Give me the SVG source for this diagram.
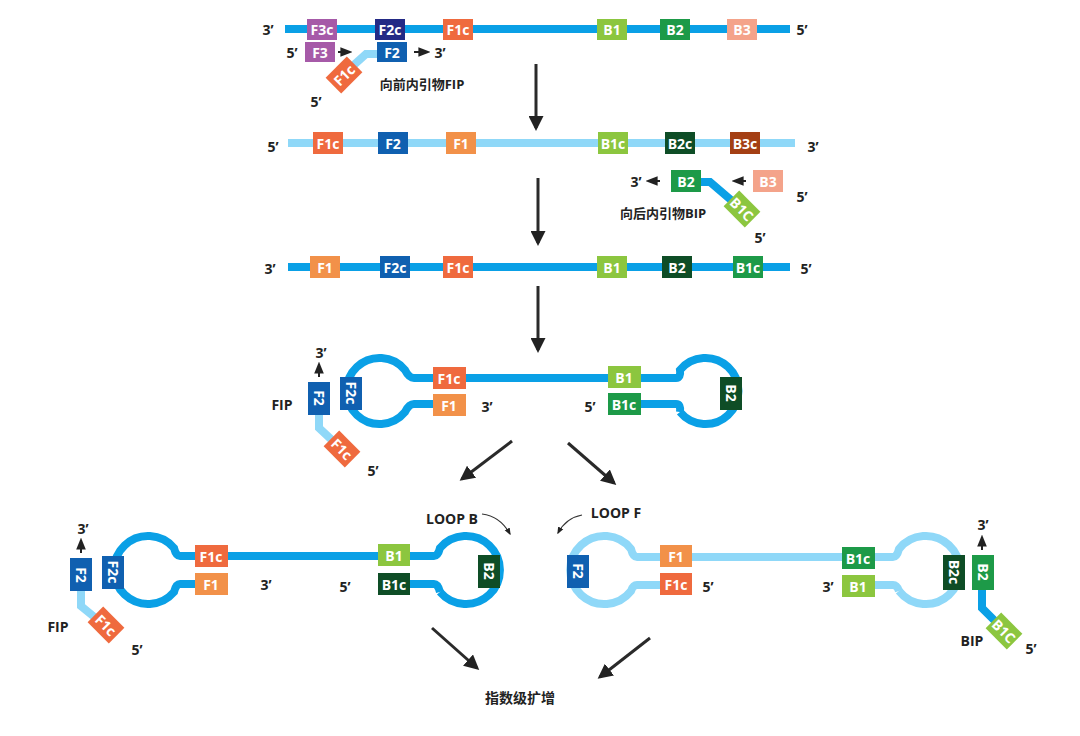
<svg xmlns="http://www.w3.org/2000/svg" width="1080" height="736" viewBox="0 0 1080 736">
<defs>
<marker id="ah" viewBox="0 0 10 10" refX="8" refY="5" markerWidth="5" markerHeight="5" orient="auto"><path d="M0 0L10 5L0 10z" fill="#222"/></marker>
<marker id="sa" viewBox="0 0 10 10" refX="8" refY="5" markerWidth="6" markerHeight="6" orient="auto"><path d="M0 1L10 5L0 9z" fill="#222"/></marker>
</defs>
<style>
.d{stroke:#0aa0e6;stroke-width:8;fill:none}
.l{stroke:#8fd8f8;stroke-width:8;fill:none}
.bt{font-family:"Open Sans","Liberation Sans","Noto Sans CJK SC",sans-serif;font-weight:bold;font-size:14px;fill:#fff;text-anchor:middle;dominant-baseline:central}
.t{font-family:"Open Sans","Liberation Sans","Noto Sans CJK SC",sans-serif;font-weight:bold;font-size:14px;fill:#222;text-anchor:middle;dominant-baseline:central}
.a{stroke:#2a2a2a;stroke-width:3;fill:none;marker-end:url(#ah)}
.s{stroke:#222;stroke-width:2;fill:none;marker-end:url(#sa)}
.c{stroke:#333;stroke-width:1.2;fill:none;marker-end:url(#sa)}
</style>
<rect width="1080" height="736" fill="#fff"/>
<g id="connectors">
<line class="a" x1="536" y1="64" x2="536" y2="128"/>
<line class="a" x1="538" y1="178" x2="538" y2="243"/>
<line class="a" x1="538" y1="286" x2="538" y2="350"/>
<line class="a" x1="512" y1="441" x2="462" y2="479"/>
<line class="a" x1="568" y1="443" x2="614" y2="483"/>
<line class="a" x1="432" y1="628" x2="477" y2="668"/>
<line class="a" x1="650" y1="638" x2="600" y2="677"/>
<path class="c" d="M482 514 Q500 516 510 534"/>
<path class="c" d="M582 515 Q566 518 558 533"/>
</g>
<g id="row1">
<line class="d" x1="285" y1="29" x2="790" y2="29"/>
<text class="t" x="268" y="29">3’</text><text class="t" x="802" y="29">5’</text>
<rect x="307" y="19" width="30" height="21" fill="#a65aa8"/><text class="bt" x="322" y="29.5">F3c</text>
<rect x="375" y="19" width="30" height="21" fill="#232a85"/><text class="bt" x="390" y="29.5">F2c</text>
<rect x="443" y="19" width="30" height="21" fill="#ef6a3e"/><text class="bt" x="458" y="29.5">F1c</text>
<rect x="597" y="19" width="30" height="21" fill="#8cc63f"/><text class="bt" x="612" y="29.5">B1</text>
<rect x="660" y="19" width="30" height="21" fill="#1d9a48"/><text class="bt" x="675" y="29.5">B2</text>
<rect x="727" y="19" width="30" height="21" fill="#f4a38a"/><text class="bt" x="742" y="29.5">B3</text>
</g>
<g id="fip1">
<text class="t" x="292" y="52">5’</text>
<rect x="305" y="42" width="30" height="20" fill="#a65aa8"/><text class="bt" x="320" y="52">F3</text>
<line class="s" x1="338" y1="52" x2="350" y2="52"/>
<path class="l" d="M346 72 L366 54 H380"/>
<rect x="377" y="42" width="30" height="20" fill="#1060b0"/><text class="bt" x="392" y="52">F2</text>
<line class="s" x1="414" y1="52" x2="428" y2="52"/>
<text class="t" x="440" y="52">3’</text>
<g transform="translate(344,75) rotate(-45)"><rect x="-15" y="-11" width="30" height="22" fill="#ef6a3e"/><text class="bt" x="0" y="0">F1c</text></g>
<text class="t" x="316" y="101">5’</text>
<text class="t" x="422" y="84" style="font-size:13px">向前内引物FIP</text>
</g>
<g id="row2">
<line class="l" x1="288" y1="143" x2="795" y2="143"/>
<text class="t" x="273" y="146">5’</text><text class="t" x="813" y="146">3’</text>
<rect x="313" y="132" width="30" height="22" fill="#ef6a3e"/><text class="bt" x="328" y="143">F1c</text>
<rect x="378" y="132" width="30" height="22" fill="#1060b0"/><text class="bt" x="393" y="143">F2</text>
<rect x="446" y="132" width="30" height="22" fill="#f29149"/><text class="bt" x="461" y="143">F1</text>
<rect x="598" y="132" width="30" height="22" fill="#8cc63f"/><text class="bt" x="613" y="143">B1c</text>
<rect x="665" y="132" width="30" height="22" fill="#0e4d26"/><text class="bt" x="680" y="143">B2c</text>
<rect x="730" y="132" width="30" height="22" fill="#a43f14"/><text class="bt" x="745" y="143">B3c</text>
</g>
<g id="bip1">
<text class="t" x="636" y="181">3’</text>
<line class="s" x1="660" y1="181" x2="648" y2="181"/>
<path class="d" d="M695 182 H710 L738 206"/>
<rect x="671" y="170" width="30" height="22" fill="#1d9a48"/><text class="bt" x="686" y="181">B2</text>
<line class="s" x1="746" y1="181" x2="734" y2="181"/>
<rect x="753" y="170" width="30" height="22" fill="#f4a38a"/><text class="bt" x="768" y="181">B3</text>
<text class="t" x="802" y="196">5’</text>
<g transform="translate(742,209) rotate(45)"><rect x="-15" y="-11" width="30" height="22" fill="#8cc63f"/><text class="bt" x="0" y="0">B1C</text></g>
<text class="t" x="663" y="213" style="font-size:13px">向后内引物BIP</text>
<text class="t" x="760" y="237">5’</text>
</g>
<g id="row3">
<line class="d" x1="288" y1="267" x2="790" y2="267"/>
<text class="t" x="270" y="268">3’</text><text class="t" x="806" y="268">5’</text>
<rect x="310" y="256" width="30" height="22" fill="#f29149"/><text class="bt" x="325" y="267">F1</text>
<rect x="380" y="256" width="30" height="22" fill="#1060b0"/><text class="bt" x="395" y="267">F2c</text>
<rect x="443" y="256" width="30" height="22" fill="#ef6a3e"/><text class="bt" x="458" y="267">F1c</text>
<rect x="597" y="256" width="30" height="22" fill="#8cc63f"/><text class="bt" x="612" y="267">B1</text>
<rect x="662" y="256" width="30" height="22" fill="#0e4d26"/><text class="bt" x="677" y="267">B2</text>
<rect x="733" y="256" width="30" height="22" fill="#1d9a48"/><text class="bt" x="748" y="267">B1c</text>
</g>
<g id="row4">
<path class="d" d="M420 378 H414 Q409 378 405 370 A33 33 0 1 0 405 412 Q409 404 414 404 H440"/>
<line class="d" x1="414" y1="378" x2="676" y2="378"/>
<path class="d" d="M620 404 H676 Q681 404 680 412"/>
<path class="d" d="M676 378 Q681 378 680 370 A33 33 0 1 1 680 412"/>
<rect x="340" y="377" width="22" height="33" fill="#1060b0"/><text class="bt" transform="translate(351,393) rotate(90)">F2c</text>
<rect x="433" y="367" width="33" height="22" fill="#ef6a3e"/><text class="bt" x="449" y="378">F1c</text>
<rect x="433" y="394" width="33" height="22" fill="#f29149"/><text class="bt" x="449" y="405">F1</text>
<text class="t" x="487" y="406">3’</text><text class="t" x="590" y="406">5’</text>
<rect x="608" y="366" width="33" height="22" fill="#8cc63f"/><text class="bt" x="624" y="377">B1</text>
<rect x="608" y="393" width="33" height="22" fill="#1d9a48"/><text class="bt" x="624" y="404">B1c</text>
<rect x="720" y="377" width="22" height="33" fill="#0e4d26"/><text class="bt" transform="translate(731,393) rotate(90)">B2</text>
</g>
<g id="fip2">
<path class="l" d="M319 412 V428 L334 442"/>
<rect x="308" y="382" width="22" height="33" fill="#1060b0"/><text class="bt" transform="translate(319,398) rotate(90)">F2</text>
<line class="s" x1="319" y1="377" x2="319" y2="364"/>
<text class="t" x="321" y="352">3’</text>
<text class="t" x="282" y="404">FIP</text>
<g transform="translate(342,449) rotate(45)"><rect x="-15" y="-11" width="30" height="22" fill="#ef6a3e"/><text class="bt" x="0" y="0">F1c</text></g>
<text class="t" x="373" y="470">5’</text>
</g>
<g id="row5left">
<path class="d" d="M190 556 H180 Q176 556 174 548 A34 34 0 1 0 174 592 Q176 584 180 584 H200"/>
<line class="d" x1="180" y1="556" x2="434" y2="556"/>
<path class="d" d="M400 584 H434 Q438 584 440 592"/>
<path class="d" d="M434 556 Q438 556 440 548 A34 34 0 1 1 440 592"/>
<rect x="102" y="556" width="22" height="33" fill="#1060b0"/><text class="bt" transform="translate(113,572) rotate(90)">F2c</text>
<rect x="195" y="545" width="33" height="22" fill="#ef6a3e"/><text class="bt" x="211" y="556">F1c</text>
<rect x="195" y="573" width="33" height="22" fill="#f29149"/><text class="bt" x="211" y="584">F1</text>
<text class="t" x="266" y="584">3’</text><text class="t" x="345" y="586">5’</text>
<rect x="378" y="544" width="32" height="22" fill="#8cc63f"/><text class="bt" x="394" y="555">B1</text>
<rect x="378" y="573" width="32" height="22" fill="#0e4d26"/><text class="bt" x="394" y="584">B1c</text>
<rect x="478" y="555" width="22" height="33" fill="#0e4d26"/><text class="bt" transform="translate(489,571) rotate(90)">B2</text>
<text class="t" x="452" y="518">LOOP B</text>
</g>
<g id="fip3">
<path class="l" d="M81 590 V606 L98 620"/>
<rect x="70" y="558" width="22" height="33" fill="#1060b0"/><text class="bt" transform="translate(81,575) rotate(90)">F2</text>
<line class="s" x1="81" y1="553" x2="81" y2="540"/>
<text class="t" x="83" y="528">3’</text>
<text class="t" x="58" y="626">FIP</text>
<g transform="translate(106,625) rotate(45)"><rect x="-15" y="-11" width="30" height="22" fill="#ef6a3e"/><text class="bt" x="0" y="0">F1c</text></g>
<text class="t" x="137" y="649">5’</text>
</g>
<g id="row5right">
<path class="l" d="M650 557 H637 Q633 557 631 549 A34 34 0 1 0 631 591 Q633 585 637 585 H670"/>
<line class="l" x1="637" y1="557" x2="893" y2="557"/>
<path class="l" d="M860 585 H893 Q897 585 899 591"/>
<path class="l" d="M893 557 Q897 557 899 549 A34 34 0 1 1 899 591"/>
<rect x="567" y="555" width="22" height="33" fill="#1060b0"/><text class="bt" transform="translate(578,571) rotate(90)">F2</text>
<rect x="660" y="545" width="32" height="22" fill="#f29149"/><text class="bt" x="676" y="556">F1</text>
<rect x="660" y="573" width="32" height="22" fill="#ef6a3e"/><text class="bt" x="676" y="584">F1c</text>
<text class="t" x="708" y="586">5’</text><text class="t" x="828" y="586">3’</text>
<rect x="842" y="547" width="33" height="22" fill="#1d9a48"/><text class="bt" x="858" y="558">B1c</text>
<rect x="842" y="575" width="33" height="22" fill="#8cc63f"/><text class="bt" x="858" y="586">B1</text>
<rect x="943" y="555" width="22" height="35" fill="#0e4d26"/><text class="bt" transform="translate(954,572) rotate(90)">B2c</text>
<text class="t" x="616" y="512">LOOP F</text>
</g>
<g id="bip2">
<path class="d" d="M982 588 V608 L998 624"/>
<rect x="972" y="555" width="22" height="35" fill="#1d9a48"/><text class="bt" transform="translate(983,572) rotate(90)">B2</text>
<line class="s" x1="982" y1="550" x2="982" y2="537"/>
<text class="t" x="983" y="524">3’</text>
<g transform="translate(1004,631) rotate(45)"><rect x="-15" y="-11" width="30" height="22" fill="#8cc63f"/><text class="bt" x="0" y="0">B1C</text></g>
<text class="t" x="972" y="640">BIP</text>
<text class="t" x="1031" y="648">5’</text>
</g>
<g id="result"><text class="t" x="520" y="697">指数级扩增</text></g>
</svg>
